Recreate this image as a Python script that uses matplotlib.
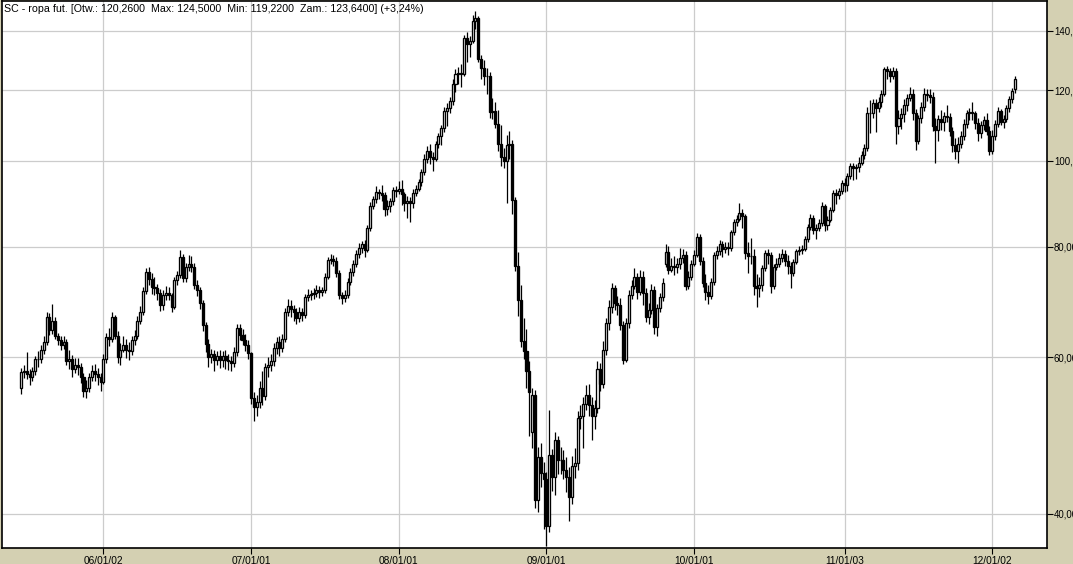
import matplotlib
matplotlib.use('Agg')
import matplotlib.pyplot as plt
import numpy as np

plt.rcParams['font.family'] = ['Liberation Sans', 'DejaVu Sans']

title = 'SC - ropa fut. [Otw.: 120,2600  Max: 124,5000  Min: 119,2200  Zam.: 123,6400] (+3,24%)'

# first weekly bar of each year
x_labels = ['06/01/02', '07/01/01', '08/01/01', '09/01/01', '10/01/01', '11/01/03', '12/01/02']
x_label_bars = [29, 81, 133, 185, 237, 290, 342]
y_ticks = [40, 60, 80, 100, 120, 140]
y_labels = ['40,00', '60,00', '80,00', '100,00', '120,00', '140,00']

# weekly OHLC, June 2005 - Feb 2012
opens = [
    55.4, 57.8, 58.0, 57.5, 57.0, 57.9, 59.7, 59.8, 61.2, 62.5,
    66.6, 64.4, 66.0, 63.5, 62.8, 62.0, 62.4, 59.5, 59.8, 58.3,
    58.8, 58.5, 57.0, 55.0, 55.4, 57.0, 57.9, 57.5, 57.0, 56.3,
    59.8, 63.2, 63.0, 66.6, 63.5, 60.0, 61.2, 62.0, 61.2, 61.0,
    62.8, 63.5, 66.0, 67.6, 71.3, 74.9, 73.5, 72.0, 71.8, 71.0,
    68.7, 70.6, 71.0, 70.5, 68.4, 73.3, 74.3, 77.8, 73.7, 75.8,
    76.5, 75.9, 72.5, 71.5, 69.1, 65.2, 62.2, 60.0, 60.5, 59.6,
    60.3, 59.6, 60.3, 59.6, 59.4, 59.2, 60.8, 64.7, 63.6, 62.8,
    62.0, 60.7, 54.0, 52.7, 53.5, 55.5, 54.3, 58.5, 58.9, 59.5,
    61.5, 62.5, 61.5, 63.0, 67.5, 68.5, 68.0, 67.5, 66.5, 67.5,
    67.0, 70.2, 70.6, 70.8, 71.0, 71.5, 71.2, 71.5, 74.0, 77.2,
    77.5, 77.0, 74.7, 70.6, 70.0, 70.6, 73.0, 74.9, 76.4, 78.5,
    79.7, 80.5, 79.3, 83.9, 89.0, 90.5, 92.1, 92.0, 91.4, 88.3,
    89.0, 90.0, 92.6, 92.5, 93.0, 91.8, 89.5, 90.0, 89.6, 92.0,
    93.0, 94.5, 97.0, 100.5, 102.6, 101.0, 100.5, 104.5, 106.5, 108.9,
    113.8, 114.5, 116.8, 122.0, 125.3, 125.5, 125.3, 137.5, 135.5, 136.5,
    143.7, 144.8, 130.3, 127.0, 124.7, 124.5, 113.5, 113.8, 110.0, 104.5,
    101.0, 100.0, 104.0, 104.5, 90.2, 76.0, 69.7, 62.6, 61.0, 58.0,
    49.4, 54.4, 41.5, 46.3, 44.5, 43.8, 38.7, 46.6, 44.0, 48.4,
    46.0, 46.0, 44.8, 44.0, 41.8, 45.3, 45.6, 51.3, 51.6, 53.2,
    54.5, 53.0, 51.6, 52.6, 58.3, 56.0, 61.2, 65.6, 68.4, 71.9,
    69.1, 68.8, 65.2, 59.6, 65.6, 70.6, 72.2, 73.9, 71.2, 74.0,
    70.9, 66.6, 67.9, 71.5, 64.9, 68.3, 70.2, 76.5, 78.8, 75.3,
    76.0, 75.8, 76.5, 77.7, 78.2, 72.2, 74.0, 76.5, 78.3, 82.0,
    77.0, 72.8, 71.2, 70.3, 73.0, 78.3, 79.0, 80.5, 79.5, 80.0,
    79.8, 83.0, 85.2, 86.0, 87.2, 86.5, 78.6, 78.0, 78.0, 72.2,
    71.8, 72.5, 75.6, 78.6, 78.2, 72.2, 75.8, 76.5, 77.7, 78.5,
    77.0, 76.0, 74.8, 76.9, 79.0, 79.3, 79.5, 81.5, 84.2, 86.2,
    83.5, 84.0, 85.0, 89.0, 84.6, 85.7, 88.0, 91.9, 91.4, 92.3,
    94.3, 93.8, 96.0, 98.7, 98.0, 98.3, 99.5, 101.5, 103.2, 113.0,
    113.2, 116.0, 114.5, 116.5, 119.0, 126.8, 126.2, 124.7, 126.3, 109.5,
    111.8, 112.9, 115.5, 117.6, 119.0, 113.0, 105.3, 111.7, 115.0, 119.0,
    118.6, 118.0, 109.5, 108.4, 111.5, 110.5, 112.4, 112.0, 108.0, 104.0,
    102.6, 104.5, 106.7, 110.0, 113.0, 113.5, 113.0, 110.3, 107.4, 109.6,
    111.0, 108.0, 102.6, 106.7, 110.0, 113.8, 110.6, 111.5, 114.6, 117.3, 120.26,
]
highs = [
    58.4, 58.9, 60.8, 58.3, 58.6, 60.3, 61.0, 61.9, 63.4, 67.5,
    67.4, 69.0, 66.6, 64.0, 63.5, 63.4, 63.0, 61.2, 60.4, 59.9,
    59.9, 59.2, 57.6, 56.6, 57.7, 58.8, 59.0, 58.4, 57.6, 60.6,
    64.0, 64.8, 67.5, 67.0, 64.2, 62.3, 63.5, 63.0, 62.4, 63.5,
    64.4, 66.8, 68.6, 72.0, 75.7, 75.8, 74.8, 73.9, 72.6, 71.7,
    71.4, 72.2, 72.0, 71.0, 74.0, 75.0, 79.4, 78.4, 76.7, 78.2,
    78.0, 76.6, 73.4, 72.1, 69.7, 65.8, 63.0, 61.4, 61.2, 61.0,
    61.2, 61.0, 61.1, 60.5, 60.3, 61.6, 65.5, 65.4, 64.6, 63.7,
    62.8, 60.9, 54.8, 54.5, 56.4, 57.9, 59.2, 60.1, 60.6, 62.3,
    63.2, 63.4, 63.8, 68.2, 69.8, 69.6, 68.8, 68.3, 68.4, 68.2,
    70.8, 71.6, 71.5, 71.8, 72.4, 72.3, 72.1, 74.7, 77.9, 78.4,
    78.2, 77.8, 75.3, 71.2, 71.4, 73.7, 75.6, 77.2, 79.3, 80.8,
    81.2, 81.4, 84.6, 89.8, 91.2, 93.6, 93.0, 93.9, 92.1, 90.2,
    90.8, 93.3, 93.6, 94.8, 95.0, 92.2, 91.3, 91.0, 92.8, 93.8,
    95.4, 97.8, 101.6, 103.9, 104.3, 102.2, 105.3, 107.4, 109.8, 114.9,
    116.2, 118.0, 123.5, 126.8, 127.4, 128.6, 138.4, 139.5, 138.2, 145.9,
    147.5, 145.6, 131.5, 129.9, 127.2, 125.8, 117.6, 116.5, 114.0, 109.7,
    103.4, 106.8, 108.0, 105.4, 91.0, 78.8, 72.4, 66.4, 64.6, 59.4,
    55.5, 55.2, 47.6, 48.0, 45.8, 44.6, 52.3, 47.3, 49.5, 48.9,
    47.6, 47.2, 46.3, 45.2, 46.5, 47.4, 52.2, 53.0, 54.2, 55.8,
    56.0, 54.2, 53.8, 59.4, 59.2, 62.6, 66.4, 69.6, 72.8, 72.5,
    70.4, 70.0, 66.0, 66.4, 71.4, 73.3, 75.6, 74.8, 75.2, 75.0,
    71.8, 69.2, 72.6, 72.2, 69.0, 71.0, 73.8, 80.6, 80.2, 77.6,
    78.0, 77.6, 79.8, 79.6, 79.0, 75.0, 77.2, 79.2, 82.8, 82.6,
    77.8, 74.6, 72.4, 73.8, 78.9, 80.2, 81.4, 81.2, 81.0, 80.9,
    83.6, 86.0, 86.8, 89.6, 88.2, 87.0, 81.0, 81.8, 79.5, 74.6,
    74.0, 76.2, 79.4, 79.6, 78.8, 76.5, 77.6, 78.6, 79.5, 79.4,
    78.2, 76.8, 77.5, 79.6, 80.2, 80.4, 82.2, 84.9, 87.0, 86.8,
    84.8, 86.0, 89.8, 89.4, 86.6, 88.6, 92.6, 92.8, 93.2, 95.0,
    95.6, 96.8, 99.5, 99.4, 99.2, 101.0, 102.4, 104.5, 114.8, 117.0,
    117.2, 117.4, 117.8, 120.2, 127.6, 127.8, 127.2, 127.4, 127.0, 114.0,
    114.6, 117.2, 118.8, 121.0, 120.4, 114.2, 112.6, 116.4, 120.6, 120.4,
    120.4, 119.6, 111.8, 112.6, 114.0, 113.4, 115.4, 113.0, 109.2, 106.0,
    106.2, 108.0, 111.4, 114.0, 114.6, 116.5, 113.8, 111.6, 110.8, 112.4,
    113.2, 109.4, 108.2, 111.0, 114.8, 114.4, 112.6, 115.4, 118.2, 120.8, 124.5,
]
lows = [
    54.6, 56.9, 56.8, 55.9, 56.4, 57.4, 58.6, 59.2, 60.6, 62.0,
    63.6, 63.8, 62.9, 61.9, 61.1, 61.3, 58.9, 58.2, 57.1, 57.6,
    57.4, 56.1, 54.1, 54.0, 54.8, 56.5, 56.4, 55.8, 55.0, 56.0,
    59.2, 61.8, 62.5, 63.0, 59.2, 58.9, 60.8, 59.9, 59.6, 60.4,
    61.9, 62.9, 65.4, 67.0, 70.7, 72.4, 70.8, 70.5, 69.6, 67.7,
    67.9, 69.6, 69.6, 67.5, 68.0, 72.5, 73.8, 72.9, 73.0, 75.0,
    74.9, 71.6, 70.3, 68.0, 64.3, 60.9, 58.6, 59.1, 57.9, 58.8,
    58.4, 58.6, 58.3, 58.1, 58.0, 58.6, 60.3, 62.8, 61.9, 61.0,
    59.8, 53.2, 50.9, 51.6, 52.6, 53.1, 53.8, 57.1, 57.9, 58.7,
    60.6, 60.3, 60.8, 62.5, 66.8, 66.7, 66.0, 65.4, 65.8, 65.9,
    66.4, 69.4, 69.7, 69.8, 70.2, 70.0, 70.4, 71.0, 73.5, 76.4,
    76.1, 74.0, 69.8, 68.9, 69.3, 70.0, 72.4, 74.2, 75.8, 77.6,
    78.6, 77.8, 78.9, 83.3, 88.2, 89.6, 90.5, 90.0, 86.7, 86.9,
    87.6, 89.2, 91.0, 91.7, 89.2, 87.8, 86.2, 85.3, 88.4, 91.2,
    92.3, 93.6, 96.3, 99.4, 99.0, 97.3, 99.8, 103.2, 104.1, 107.8,
    109.5, 113.2, 115.4, 119.6, 122.0, 121.0, 124.4, 129.3, 131.0, 135.8,
    140.6, 129.0, 123.5, 121.6, 118.8, 111.8, 111.5, 108.7, 102.4, 98.7,
    98.0, 89.5, 100.3, 87.0, 75.1, 66.9, 61.6, 59.8, 55.4, 49.0,
    47.4, 40.6, 40.2, 42.9, 38.4, 36.8, 38.2, 42.4, 42.0, 44.3,
    44.4, 43.8, 42.3, 39.3, 41.0, 43.9, 44.8, 49.8, 47.5, 52.4,
    51.5, 48.4, 49.8, 52.0, 55.0, 55.4, 60.4, 64.5, 67.3, 67.8,
    67.0, 64.5, 59.0, 59.3, 64.8, 69.8, 71.6, 69.8, 70.5, 68.8,
    65.8, 65.4, 67.2, 63.8, 63.5, 67.6, 69.5, 75.8, 74.6, 74.9,
    74.4, 74.8, 75.5, 76.6, 71.4, 71.6, 73.3, 76.0, 77.8, 76.2,
    72.0, 69.6, 69.0, 69.8, 72.4, 77.5, 78.2, 77.8, 78.6, 78.2,
    79.0, 82.4, 84.3, 85.5, 84.0, 77.5, 74.8, 76.5, 70.5, 68.4,
    70.2, 71.3, 75.0, 76.4, 71.0, 71.6, 75.2, 75.9, 76.8, 76.0,
    74.6, 71.9, 74.2, 76.4, 78.3, 78.4, 79.0, 81.0, 83.5, 82.6,
    81.6, 83.2, 84.3, 83.4, 83.6, 85.2, 87.5, 89.4, 90.6, 91.6,
    92.2, 92.5, 95.4, 95.0, 95.3, 97.2, 98.8, 100.4, 102.5, 107.5,
    111.6, 107.6, 113.4, 115.0, 118.2, 123.6, 122.5, 123.6, 104.5, 107.2,
    108.6, 110.6, 113.8, 116.6, 111.2, 102.8, 104.4, 110.2, 113.6, 116.8,
    116.2, 108.0, 99.3, 105.2, 108.2, 108.0, 110.4, 106.5, 102.2, 100.5,
    99.3, 103.4, 105.6, 108.8, 111.2, 111.0, 108.6, 105.2, 106.0, 108.2,
    106.8, 101.4, 101.8, 105.4, 109.0, 109.6, 108.8, 110.6, 113.4, 116.2, 119.22,
]
closes = [
    57.8, 58.0, 57.5, 57.0, 57.9, 59.7, 59.8, 61.2, 62.5, 66.6,
    64.4, 66.0, 63.5, 62.8, 62.0, 62.4, 59.5, 59.8, 58.3, 58.8,
    58.5, 57.0, 55.0, 55.4, 57.0, 57.9, 57.5, 57.0, 56.3, 59.8,
    63.2, 63.0, 66.6, 63.5, 60.0, 61.2, 62.0, 61.2, 61.0, 62.8,
    63.5, 66.0, 67.6, 71.3, 74.9, 73.5, 72.0, 71.8, 71.0, 68.7,
    70.6, 71.0, 70.5, 68.4, 73.3, 74.3, 77.8, 73.7, 75.8, 76.5,
    75.9, 72.5, 71.5, 69.1, 65.2, 62.2, 60.0, 60.5, 59.6, 60.3,
    59.6, 60.3, 59.6, 59.4, 59.2, 60.8, 64.7, 63.6, 62.8, 62.0,
    60.7, 54.0, 52.7, 53.5, 55.5, 54.3, 58.5, 58.9, 59.5, 61.5,
    62.5, 61.5, 63.0, 67.5, 68.5, 68.0, 67.5, 66.5, 67.5, 67.0,
    70.2, 70.6, 70.8, 71.0, 71.5, 71.2, 71.5, 74.0, 77.2, 77.5,
    77.0, 74.7, 70.6, 70.0, 70.6, 73.0, 74.9, 76.4, 78.5, 79.7,
    80.5, 79.3, 83.9, 89.0, 90.5, 92.1, 92.0, 91.4, 88.3, 89.0,
    90.0, 92.6, 92.5, 93.0, 91.8, 89.5, 90.0, 89.6, 92.0, 93.0,
    94.5, 97.0, 100.5, 102.6, 101.0, 100.5, 104.5, 106.5, 108.9, 113.8,
    114.5, 116.8, 122.0, 125.3, 125.5, 125.3, 137.5, 135.5, 136.5, 143.7,
    144.8, 130.3, 127.0, 124.7, 124.5, 113.5, 113.8, 110.0, 104.5, 101.0,
    100.0, 104.0, 104.5, 90.2, 76.0, 69.7, 62.6, 61.0, 58.0, 54.8,
    54.4, 41.5, 46.3, 44.5, 43.8, 38.7, 46.6, 44.0, 48.4, 46.0,
    46.0, 44.8, 44.0, 41.8, 45.3, 45.6, 51.3, 51.6, 53.2, 54.5,
    53.0, 51.6, 52.6, 58.3, 56.0, 61.2, 65.6, 68.4, 71.9, 69.1,
    68.8, 65.2, 59.6, 65.6, 70.6, 72.2, 73.9, 71.2, 74.0, 70.9,
    66.6, 67.9, 71.5, 64.9, 68.3, 70.2, 72.8, 78.8, 75.3, 76.0,
    75.8, 76.5, 77.7, 78.2, 72.2, 74.0, 76.5, 78.3, 82.0, 77.0,
    72.8, 71.2, 70.3, 73.0, 78.3, 79.0, 80.5, 79.5, 80.0, 79.8,
    83.0, 85.2, 86.0, 87.2, 86.5, 78.6, 78.0, 78.0, 72.2, 71.8,
    72.5, 75.6, 78.6, 78.2, 72.2, 75.8, 76.5, 77.7, 78.5, 77.0,
    76.0, 74.8, 76.9, 79.0, 79.3, 79.5, 81.5, 84.2, 86.2, 83.5,
    84.0, 85.0, 89.0, 84.6, 85.7, 88.0, 91.9, 91.4, 92.3, 94.3,
    93.8, 96.0, 98.7, 98.0, 98.3, 99.5, 101.5, 103.2, 113.0, 113.2,
    116.0, 114.5, 116.5, 119.0, 126.8, 126.2, 124.7, 126.3, 109.5, 111.8,
    112.9, 115.5, 117.6, 119.0, 113.0, 105.3, 111.7, 115.0, 119.0, 118.6,
    118.0, 109.5, 108.4, 111.5, 110.5, 112.4, 112.0, 108.0, 104.0, 102.6,
    104.5, 106.7, 110.0, 113.0, 113.5, 113.0, 110.3, 107.4, 109.6, 111.0,
    108.0, 102.6, 106.7, 110.0, 113.8, 110.6, 111.5, 114.6, 117.3, 119.76, 123.64,
]

bg = '#d4d0b2'
fig = plt.figure(figsize=(10.73, 5.64), dpi=100, facecolor=bg)
ax = fig.add_axes([2 / 1073, 16 / 564, 1045 / 1073, 547 / 564])
ax.set_facecolor('white')
ax.set_yscale('log')

o = np.array(opens)
h = np.array(highs)
l = np.array(lows)
c = np.array(closes)
idx = np.arange(len(c))
up = c >= o

# wicks first, bodies on top
ax.vlines(idx, l, h, color='black', linewidth=0.9, zorder=2)
ax.bar(idx[up], (c - o)[up], bottom=o[up], width=0.72, color='white',
       edgecolor='black', linewidth=0.95, zorder=3)
ax.bar(idx[~up], (o - c)[~up], bottom=c[~up], width=0.72, color='black',
       edgecolor='black', linewidth=0.95, zorder=3)

ax.set_xlim(-6.7, 361.3)
ax.set_ylim(36.6, 151.3)

ax.yaxis.tick_right()
ax.set_yticks(y_ticks)
ax.set_yticklabels(y_labels)
ax.yaxis.set_minor_locator(matplotlib.ticker.NullLocator())
ax.set_xticks(x_label_bars)
ax.set_xticklabels(x_labels)
ax.tick_params(axis='x', labelsize=7.3, length=4, width=0.8, colors='black', pad=1.5)
ax.tick_params(axis='y', labelsize=6.9, length=4, width=0.8, colors='black', pad=1)
ax.grid(True, color='#cccccc', linewidth=0.9, zorder=0)
ax.set_axisbelow(True)
for s in ax.spines.values():
    s.set_color('black')
    s.set_linewidth(1.2)

ax.text(0.002, 0.995, title, transform=ax.transAxes, ha='left', va='top',
        fontsize=7.7, color='black')

fig.savefig('out.png', dpi=100, facecolor=bg)
